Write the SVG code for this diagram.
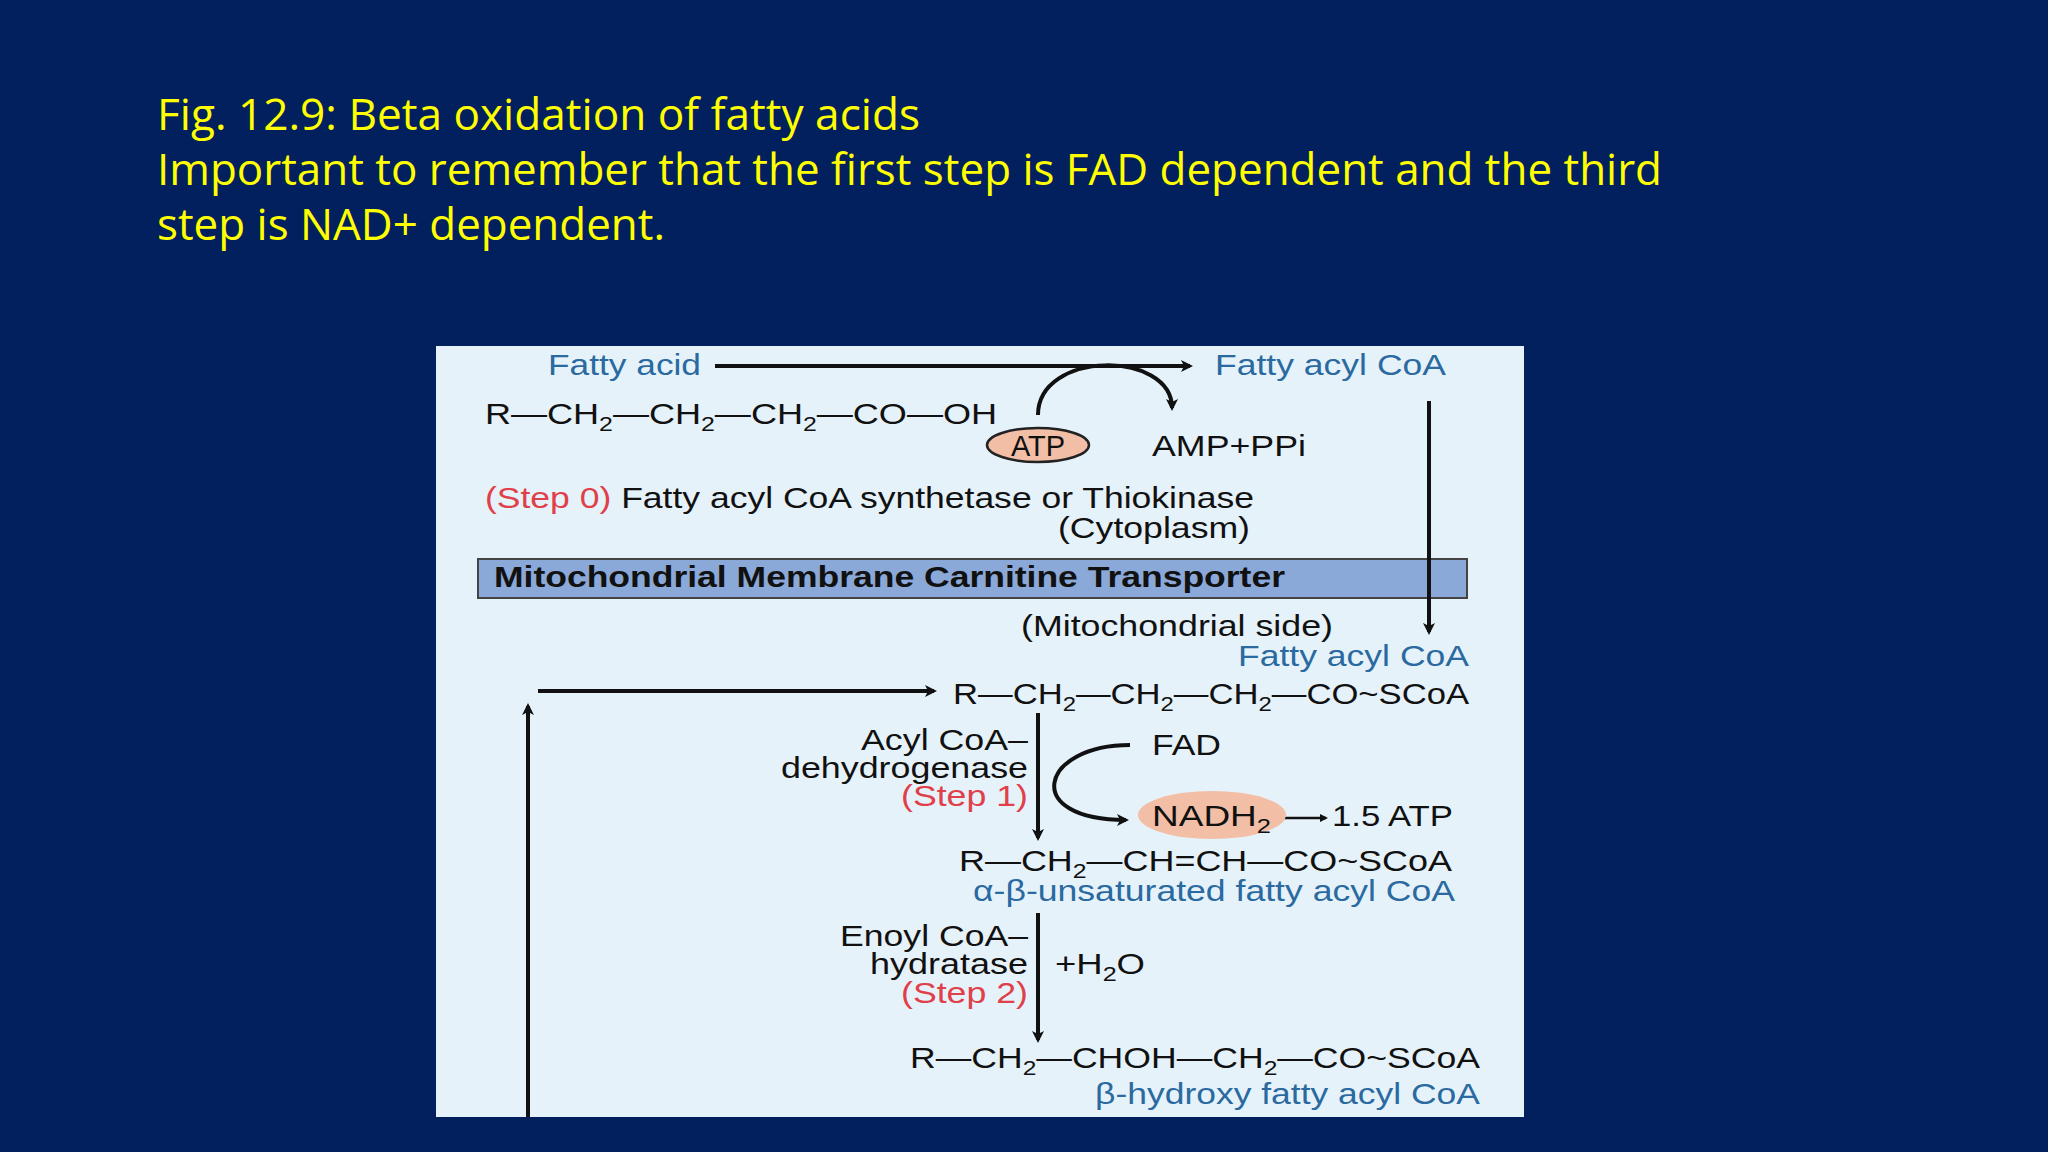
<svg xmlns="http://www.w3.org/2000/svg" width="2048" height="1152" viewBox="0 0 2048 1152">
<defs>
<marker id="ah" markerWidth="8" markerHeight="8" refX="6" refY="4" orient="auto" markerUnits="userSpaceOnUse"><path d="M0,0 L8,4 L0,8 Z" fill="#111"/></marker>
<marker id="ah2" markerWidth="12" markerHeight="12" refX="9" refY="6" orient="auto" markerUnits="userSpaceOnUse"><path d="M0,0 L12,6 L0,12 L3,6 Z" fill="#111"/></marker>
</defs>
<style>
.t{font-family:"Open Sans","Liberation Sans",sans-serif;fill:#ffff00;font-size:43px}
.f{font-family:"Liberation Sans",Arial,sans-serif;font-size:29px;fill:#111}
.b{fill:#2a6aa0}
.r{fill:#e0404a}
.s{font-size:20px}
.ln{stroke:#111;stroke-width:4;fill:none}
</style>
<rect width="2048" height="1152" fill="#03205e"/>
<g id="title">
<text class="t" x="157" y="130" textLength="763" lengthAdjust="spacingAndGlyphs">Fig. 12.9: Beta oxidation of fatty acids</text>
<text class="t" x="157" y="185" textLength="1505" lengthAdjust="spacingAndGlyphs">Important to remember that the first step is FAD dependent and the third</text>
<text class="t" x="157" y="240" textLength="508" lengthAdjust="spacingAndGlyphs">step is NAD+ dependent.</text>
</g>
<rect x="436" y="346" width="1088" height="771" fill="#e6f2fa"/>
<g id="membrane">
<rect x="478" y="559" width="989" height="39" fill="#8aa8d8" stroke="#444" stroke-width="2"/>
<text class="f" x="494" y="587" font-weight="bold" font-size="27" textLength="791" lengthAdjust="spacingAndGlyphs">Mitochondrial Membrane Carnitine Transporter</text>
</g>
<g id="connectors">
<line class="ln" x1="715" y1="366" x2="1190" y2="366" marker-end="url(#ah2)"/>
<path class="ln" d="M1038,415 C1038,350 1172,350 1172,408" marker-end="url(#ah2)"/>
<line class="ln" x1="1429" y1="401" x2="1429" y2="632" marker-end="url(#ah2)"/>
<path class="ln" d="M528,1117 L528,706" marker-end="url(#ah2)"/>
<line class="ln" x1="538" y1="691" x2="934" y2="691" marker-end="url(#ah2)"/>
<line class="ln" x1="1038" y1="713" x2="1038" y2="838" marker-end="url(#ah2)"/>
<path class="ln" d="M1130,745 C1040,745 1020,820 1126,820" marker-end="url(#ah2)"/>
<line class="ln" x1="1038" y1="913" x2="1038" y2="1040" marker-end="url(#ah2)"/>
<line stroke="#111" stroke-width="2.5" x1="1284" y1="818" x2="1326" y2="818" marker-end="url(#ah)"/>
</g>
<g id="fatty-acid">
<text class="f b" x="548" y="375" textLength="153" lengthAdjust="spacingAndGlyphs">Fatty acid</text>
<text class="f" x="485" y="424" textLength="512" lengthAdjust="spacingAndGlyphs">R—CH<tspan class="s" dy="7">2</tspan><tspan dy="-7">—CH</tspan><tspan class="s" dy="7">2</tspan><tspan dy="-7">—CH</tspan><tspan class="s" dy="7">2</tspan><tspan dy="-7">—CO—OH</tspan></text>
</g>
<g id="fatty-acyl-coa-top"><text class="f b" x="1215" y="375" textLength="231" lengthAdjust="spacingAndGlyphs">Fatty acyl CoA</text></g>
<g id="atp"><ellipse cx="1038" cy="445" rx="51" ry="17" fill="#f2bfa6" stroke="#222" stroke-width="2.5"/><text class="f" x="1038" y="456" text-anchor="middle">ATP</text></g>
<g id="amp"><text class="f" x="1152" y="456" textLength="154" lengthAdjust="spacingAndGlyphs">AMP+PPi</text></g>
<g id="step0">
<text class="f" x="485" y="508" textLength="769" lengthAdjust="spacingAndGlyphs"><tspan class="r">(Step 0)</tspan> Fatty acyl CoA synthetase or Thiokinase</text>
<text class="f" x="1058" y="538" textLength="192" lengthAdjust="spacingAndGlyphs">(Cytoplasm)</text>
</g>
<g id="mito-side">
<text class="f" x="1021" y="636" textLength="312" lengthAdjust="spacingAndGlyphs">(Mitochondrial side)</text>
<text class="f b" x="1238" y="666" textLength="231" lengthAdjust="spacingAndGlyphs">Fatty acyl CoA</text>
</g>
<g id="acyl-coa">
<text class="f" x="953" y="704" textLength="516" lengthAdjust="spacingAndGlyphs">R—CH<tspan class="s" dy="7">2</tspan><tspan dy="-7">—CH</tspan><tspan class="s" dy="7">2</tspan><tspan dy="-7">—CH</tspan><tspan class="s" dy="7">2</tspan><tspan dy="-7">—CO~SCoA</tspan></text>
</g>
<g id="step1">
<text class="f" x="861" y="750" textLength="167" lengthAdjust="spacingAndGlyphs">Acyl CoA–</text>
<text class="f" x="781" y="778" textLength="247" lengthAdjust="spacingAndGlyphs">dehydrogenase</text>
<text class="f r" x="901" y="806" textLength="127" lengthAdjust="spacingAndGlyphs">(Step 1)</text>
<text class="f" x="1152" y="755" textLength="69" lengthAdjust="spacingAndGlyphs">FAD</text>
</g>
<g id="nadh"><ellipse cx="1212" cy="815" rx="74" ry="24" fill="#f2bfa6"/><text class="f" x="1152" y="826" textLength="119" lengthAdjust="spacingAndGlyphs">NADH<tspan class="s" dy="7">2</tspan></text><text class="f" x="1332" y="826" textLength="121" lengthAdjust="spacingAndGlyphs">1.5 ATP</text></g>
<g id="enoyl">
<text class="f" x="959" y="871" textLength="493" lengthAdjust="spacingAndGlyphs">R—CH<tspan class="s" dy="7">2</tspan><tspan dy="-7">—CH=CH—CO~SCoA</tspan></text>
<text class="f b" x="973" y="901" textLength="482" lengthAdjust="spacingAndGlyphs">α-β-unsaturated fatty acyl CoA</text>
</g>
<g id="step2">
<text class="f" x="840" y="946" textLength="188" lengthAdjust="spacingAndGlyphs">Enoyl CoA–</text>
<text class="f" x="870" y="974" textLength="158" lengthAdjust="spacingAndGlyphs">hydratase</text>
<text class="f r" x="901" y="1003" textLength="127" lengthAdjust="spacingAndGlyphs">(Step 2)</text>
<text class="f" x="1055" y="974" textLength="90" lengthAdjust="spacingAndGlyphs">+H<tspan class="s" dy="7">2</tspan><tspan dy="-7">O</tspan></text>
</g>
<g id="hydroxy">
<text class="f" x="910" y="1068" textLength="570" lengthAdjust="spacingAndGlyphs">R—CH<tspan class="s" dy="7">2</tspan><tspan dy="-7">—CHOH—CH</tspan><tspan class="s" dy="7">2</tspan><tspan dy="-7">—CO~SCoA</tspan></text>
<text class="f b" x="1095" y="1104" textLength="385" lengthAdjust="spacingAndGlyphs">β-hydroxy fatty acyl CoA</text>
</g>
</svg>
